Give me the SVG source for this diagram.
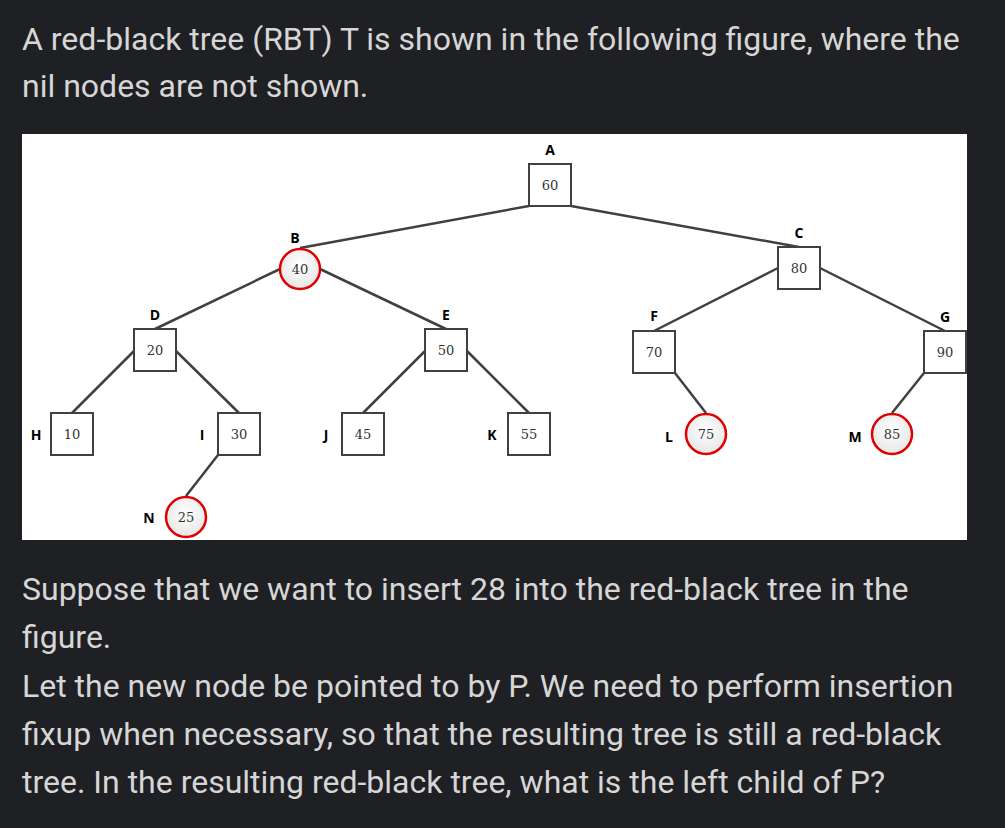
<svg xmlns="http://www.w3.org/2000/svg" width="1005" height="828" viewBox="0 0 1005 828">
<defs>
<radialGradient id="rg" cx="50%" cy="40%" r="60%"><stop offset="0" stop-color="#ffffff"/><stop offset="1" stop-color="#e6e6e6"/></radialGradient>
</defs>
<style>
.t{font-family:Roboto,"Liberation Sans",sans-serif;font-size:32px;fill:#d6d6d6}
.b{fill:#fff;stroke:#404040;stroke-width:2}
.r{fill:url(#rg);stroke:#e00000;stroke-width:2.5}
.v{font-family:"DejaVu Serif","Liberation Serif",serif;font-size:13px;fill:#333;text-anchor:middle;dominant-baseline:central}
.l{font-family:"Open Sans","Liberation Sans",sans-serif;font-size:14px;font-weight:bold;fill:#000;text-anchor:middle;dominant-baseline:central}
.e line{stroke:#404040;stroke-width:2.5}
</style>
<rect width="1005" height="828" fill="#1f2023"/>
<text class="t" x="22" y="50">A red-black tree (RBT) T is shown in the following figure, where the</text>
<text class="t" x="22" y="97">nil nodes are not shown.</text>
<rect x="22" y="134" width="945" height="406" fill="#fff"/>
<g class="e" id="connectors">
<line x1="529" y1="206" x2="300" y2="248"/>
<line x1="571" y1="206" x2="799" y2="247"/>
<line x1="280" y1="269" x2="155" y2="329"/>
<line x1="320" y1="269" x2="446" y2="329"/>
<line x1="134" y1="351" x2="72" y2="413"/>
<line x1="176" y1="351" x2="239" y2="413"/>
<line x1="425" y1="351" x2="363" y2="413"/>
<line x1="467" y1="351" x2="529" y2="413"/>
<line x1="778" y1="268" x2="654" y2="331"/>
<line x1="820" y1="268" x2="945" y2="331"/>
<line x1="675" y1="373" x2="706" y2="413"/>
<line x1="924" y1="373" x2="892" y2="413"/>
<line x1="218" y1="455" x2="186" y2="496"/>
</g>
<g id="A"><rect class="b" x="529" y="164" width="42" height="42"/><text class="v" x="550" y="185">60</text><text class="l" x="550" y="149">A</text></g>
<g id="B"><circle class="r" cx="300" cy="269" r="20"/><text class="v" x="300" y="269">40</text><text class="l" x="295" y="237">B</text></g>
<g id="C"><rect class="b" x="778" y="247" width="42" height="42"/><text class="v" x="799" y="268">80</text><text class="l" x="799" y="232">C</text></g>
<g id="D"><rect class="b" x="134" y="329" width="42" height="42"/><text class="v" x="155" y="350">20</text><text class="l" x="155" y="314">D</text></g>
<g id="E"><rect class="b" x="425" y="329" width="42" height="42"/><text class="v" x="446" y="350">50</text><text class="l" x="446" y="314">E</text></g>
<g id="F"><rect class="b" x="633" y="331" width="42" height="42"/><text class="v" x="654" y="352">70</text><text class="l" x="654" y="315">F</text></g>
<g id="G"><rect class="b" x="924" y="331" width="42" height="42"/><text class="v" x="945" y="352">90</text><text class="l" x="945" y="316">G</text></g>
<g id="H"><rect class="b" x="51" y="413" width="42" height="42"/><text class="v" x="72" y="434">10</text><text class="l" x="36" y="434">H</text></g>
<g id="I"><rect class="b" x="218" y="413" width="42" height="42"/><text class="v" x="239" y="434">30</text><text class="l" x="202" y="434">I</text></g>
<g id="J"><rect class="b" x="342" y="413" width="42" height="42"/><text class="v" x="363" y="434">45</text><text class="l" x="326" y="434">J</text></g>
<g id="K"><rect class="b" x="508" y="413" width="42" height="42"/><text class="v" x="529" y="434">55</text><text class="l" x="492" y="434">K</text></g>
<g id="L"><circle class="r" cx="706" cy="434" r="20"/><text class="v" x="706" y="434">75</text><text class="l" x="669" y="436">L</text></g>
<g id="M"><circle class="r" cx="892" cy="434" r="20"/><text class="v" x="892" y="434">85</text><text class="l" x="855" y="436">M</text></g>
<g id="N"><circle class="r" cx="186" cy="517" r="20"/><text class="v" x="186" y="517">25</text><text class="l" x="149" y="517">N</text></g>
<text class="t" x="22" y="600">Suppose that we want to insert 28 into the red-black tree in the</text>
<text class="t" x="22" y="648">figure.</text>
<text class="t" x="22" y="697">Let the new node be pointed to by P. We need to perform insertion</text>
<text class="t" x="22" y="745">fixup when necessary, so that the resulting tree is still a red-black</text>
<text class="t" x="22" y="793">tree. In the resulting red-black tree, what is the left child of P?</text>
</svg>
